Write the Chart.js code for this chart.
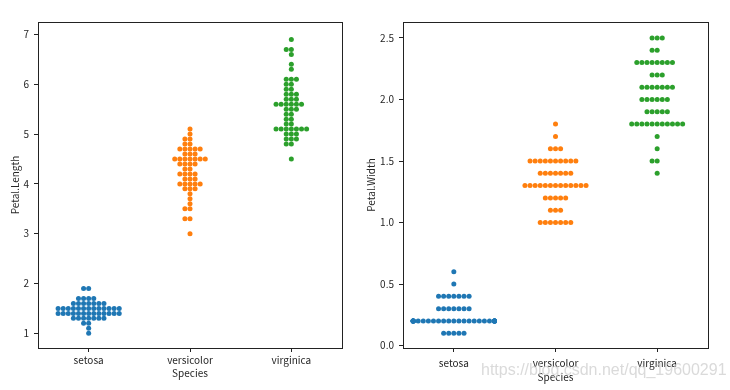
<!DOCTYPE html>
<html>
<head>
<meta charset="utf-8">
<script src="https://cdn.jsdelivr.net/npm/chart.js@4"></script>
<style>
  body { margin: 0; background: #fff; width: 730px; height: 390px; position: relative; overflow: hidden; }
  canvas { position: absolute; top: 0; }
  #left { left: 0; }
  #right { left: 365px; }
  #wm { position: absolute; left: 481px; top: 361px; font: 16px "Liberation Sans", Arial, sans-serif;
        color: rgba(205, 205, 205, 0.75); white-space: nowrap; pointer-events: none; }
</style>
</head>
<body>
<canvas id="left" width="365" height="390"></canvas>
<canvas id="right" width="365" height="390"></canvas>
<div id="wm">https://blog.csdn.net/qq_19600291</div>
<script>
// species and colours
const species = ['setosa', 'versicolor', 'virginica'];
const colors = ['#1f77b4', '#ff7f0e', '#2ca02c'];

// Petal.Length per species
const setosaLength = [1.4,1.4,1.3,1.5,1.4,1.7,1.4,1.5,1.4,1.5,1.5,1.6,1.4,1.1,1.2,1.5,1.3,1.4,1.7,1.5,1.7,1.5,1.0,1.7,1.9,1.6,1.6,1.5,1.4,1.6,1.6,1.5,1.5,1.4,1.5,1.2,1.3,1.4,1.3,1.5,1.3,1.3,1.3,1.6,1.9,1.4,1.6,1.4,1.5,1.4];
const versicolorLength = [4.7,4.5,4.9,4.0,4.6,4.5,4.7,3.3,4.6,3.9,3.5,4.2,4.0,4.7,3.6,4.4,4.5,4.1,4.5,3.9,4.8,4.0,4.9,4.7,4.3,4.4,4.8,5.0,4.5,3.5,3.8,3.7,3.9,5.1,4.5,4.5,4.7,4.4,4.1,4.0,4.4,4.6,4.0,3.3,4.2,4.2,4.2,4.3,3.0,4.1];
const virginicaLength = [6.0,5.1,5.9,5.6,5.8,6.6,4.5,6.3,5.8,6.1,5.1,5.3,5.5,5.0,5.1,5.3,5.5,6.7,6.9,5.0,5.7,4.9,6.7,4.9,5.7,6.0,4.8,4.9,5.6,5.8,6.1,6.4,5.6,5.1,5.6,6.1,5.6,5.5,4.8,5.4,5.6,5.1,5.1,5.9,5.7,5.2,5.0,5.2,5.4,5.1];

// Petal.Width per species
const setosaWidth = [0.2,0.2,0.2,0.2,0.2,0.4,0.3,0.2,0.2,0.1,0.2,0.2,0.1,0.1,0.2,0.4,0.4,0.3,0.3,0.3,0.2,0.4,0.2,0.5,0.2,0.2,0.4,0.2,0.2,0.2,0.2,0.4,0.1,0.2,0.2,0.2,0.2,0.1,0.2,0.2,0.3,0.3,0.2,0.6,0.4,0.3,0.2,0.2,0.2,0.2];
const versicolorWidth = [1.4,1.5,1.5,1.3,1.5,1.3,1.6,1.0,1.3,1.4,1.0,1.5,1.0,1.4,1.3,1.4,1.5,1.0,1.5,1.1,1.8,1.3,1.5,1.2,1.3,1.4,1.4,1.7,1.5,1.0,1.1,1.0,1.2,1.6,1.5,1.6,1.5,1.3,1.3,1.3,1.2,1.4,1.2,1.0,1.3,1.2,1.3,1.3,1.1,1.3];
const virginicaWidth = [2.5,1.9,2.1,1.8,2.2,2.1,1.7,1.8,1.8,2.5,2.0,1.9,2.1,2.0,2.4,2.3,1.8,2.2,2.3,1.5,2.3,2.0,2.0,1.8,2.1,1.8,1.8,1.8,2.1,1.6,1.9,2.0,2.2,1.5,1.4,2.3,2.4,1.8,1.8,2.1,1.8,2.1,2.3,1.9,2.3,2.5,2.3,1.9,2.0,2.3];

// tick labels
const lengthTicks = [1, 2, 3, 4, 5, 6, 7];
const widthTicks = [0.0, 0.5, 1.0, 1.5, 2.0, 2.5];

const tickFont = { family: '"Noto Sans CJK SC", "Noto Sans", sans-serif', size: 10 };
const textColor = '#262626';

// draws the box around the plot area, like matplotlib spines
const frame = {
    id: 'frame',
    afterDraw(chart) {
        const { ctx, chartArea: a } = chart;
        ctx.save();
        ctx.strokeStyle = '#222';
        ctx.lineWidth = 1;
        ctx.strokeRect(Math.round(a.left) + 0.5, Math.round(a.top) + 0.5,
            Math.round(a.right - a.left), Math.round(a.bottom - a.top));
        ctx.restore();
    }
};

// seaborn-like beeswarm, done in pixel space
function beeswarm(ys, cx, d) {
    const order = ys.map((_, i) => i).sort((a, b) => ys[b] - ys[a]);
    const placed = [];
    const xs = new Array(ys.length);
    order.forEach(i => {
        const y = ys[i];
        const nb = placed.filter(p => Math.abs(p.y - y) < d);
        const cands = [cx];
        nb.forEach(p => {
            const dx = Math.sqrt(d * d - (y - p.y) ** 2) * 1.05;
            cands.push(p.x - dx, p.x + dx);
        });
        cands.sort((a, b) => Math.abs(a - cx) - Math.abs(b - cx));
        const x = cands.find(c => nb.every(p => (p.x - c) ** 2 + (p.y - y) ** 2 >= d * d - 1e-6));
        placed.push({ x, y });
        xs[i] = x;
    });
    return xs;
}

function makeChart(id, groups, yLabel, yMin, yMax, yTicks, yFmt, o) {
    const chart = new Chart(document.getElementById(id), {
        type: 'scatter',
        data: {
            datasets: groups.map((vals, i) => ({
                label: species[i],
                data: vals.map(v => ({ x: i, y: v })),
                backgroundColor: colors[i],
                borderWidth: 0,
                pointRadius: 2.5,
                pointHoverRadius: 2.5
            }))
        },
        options: {
            responsive: false,
            animation: false,
            events: [],
            layout: { padding: { top: 22, right: o.right, left: 0, bottom: 0 } },
            plugins: { legend: { display: false }, tooltip: { enabled: false } },
            scales: {
                x: {
                    type: 'linear', min: -0.5, max: 2.5,
                    afterBuildTicks: s => { s.ticks = species.map((_, i) => ({ value: i })); },
                    ticks: { callback: v => species[v], font: tickFont, color: textColor, padding: o.xPad, maxRotation: 0, autoSkip: false },
                    grid: { drawOnChartArea: false, tickLength: 4, tickColor: '#222' },
                    border: { display: false },
                    title: { display: true, text: 'Species', font: tickFont, color: textColor, padding: { top: 0, bottom: o.xTitle } },
                    afterFit: s => { s.height = 42; }
                },
                y: {
                    min: yMin, max: yMax,
                    afterBuildTicks: s => { s.ticks = yTicks.map(v => ({ value: v })); },
                    ticks: { callback: yFmt, font: tickFont, color: textColor, padding: 5 },
                    grid: { drawOnChartArea: false, tickLength: 4, tickColor: '#222' },
                    border: { display: false },
                    title: { display: true, text: yLabel, font: tickFont, color: textColor, padding: { top: o.yTitle, bottom: 0 } },
                    afterFit: s => { s.width = 38; }
                }
            }
        },
        plugins: [frame]
    });

    // spread the points sideways now that the scales are known
    const xs = chart.scales.x, ysc = chart.scales.y;
    const half = 0.4 * (xs.getPixelForValue(1) - xs.getPixelForValue(0));
    groups.forEach((vals, i) => {
        const cx = xs.getPixelForValue(i);
        const py = vals.map(v => ysc.getPixelForValue(v));
        const px = beeswarm(py, cx, 4.85).map(x => Math.min(Math.max(x, cx - half), cx + half));
        chart.data.datasets[i].data = vals.map((v, k) => ({ x: xs.getValueForPixel(px[k]), y: v }));
    });
    chart.update('none');
    return chart;
}

makeChart('left', [setosaLength, versicolorLength, virginicaLength], 'Petal.Length',
    0.705, 7.25, lengthTicks, v => String(v), { right: 23, xPad: 2, xTitle: 11, yTitle: 9 });
makeChart('right', [setosaWidth, versicolorWidth, virginicaWidth], 'Petal.Width',
    -0.02, 2.63, widthTicks, v => v.toFixed(1), { right: 22, xPad: 5, xTitle: 7, yTitle: 0 });
</script>
</body>
</html>
